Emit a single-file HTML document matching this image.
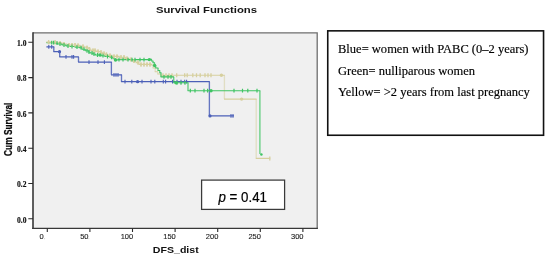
<!DOCTYPE html>
<html>
<head>
<meta charset="utf-8">
<title>Survival Functions</title>
<style>
html,body{margin:0;padding:0;background:#fff;}
body{width:550px;height:261px;position:relative;overflow:hidden;font-family:"Liberation Sans",sans-serif;}
svg{position:absolute;left:0;top:0;}
.legend{position:absolute;left:328.2px;top:31.9px;width:213px;height:101px;}
.legend div{position:absolute;left:10.2px;white-space:nowrap;font-family:"Liberation Serif",serif;font-size:12.2px;line-height:14px;color:#000;-webkit-text-stroke:0.15px #000;transform:scaleX(1.027);transform-origin:0 0;}
.pbox{position:absolute;left:202px;top:181px;width:82px;height:28px;}
.pbox span{position:absolute;left:16.5px;top:8.6px;font-size:13.3px;line-height:18px;color:#000;-webkit-text-stroke:0.2px #000;white-space:nowrap;transform:scaleY(1.17);transform-origin:0 100%;}
</style>
</head>
<body>
<svg width="550" height="261" viewBox="0 0 550 261">
  <rect x="33" y="32.8" width="284.2" height="195.6" fill="#f0f0f0"/>
  <!-- frame -->
  <path d="M33 32.8 H317.2 V228.4" fill="none" stroke="#6e6e6e" stroke-width="1.3"/>
  <path d="M33 32.2 V229" fill="none" stroke="#383838" stroke-width="1.6"/>
  <path d="M32.2 228.4 H317.9" fill="none" stroke="#383838" stroke-width="1.3"/>
  <g stroke="#2a2a2a" stroke-width="1.1">
    <path d="M28.3 42.3H33M28.3 77.6H33M28.3 112.9H33M28.3 148.2H33M28.3 183.5H33M28.3 218.8H33"/>
    <path d="M47.3 228.4V232.1M89.9 228.4V232.1M132.5 228.4V232.1M175.1 228.4V232.1M217.7 228.4V232.1M260.3 228.4V232.1M302.9 228.4V232.1"/>
  </g>
  <g font-family="Liberation Serif, serif" font-weight="bold" font-size="7.5px" fill="#111" stroke="#111" stroke-width="0.15" text-anchor="end">
    <text x="26.4" y="46.1">1.0</text>
    <text x="26.4" y="81.4">0.8</text>
    <text x="26.4" y="116.7">0.6</text>
    <text x="26.4" y="152.0">0.4</text>
    <text x="26.4" y="187.3">0.2</text>
    <text x="26.4" y="222.6">0.0</text>
  </g>
  <g font-family="Liberation Sans, sans-serif" font-size="7.5px" fill="#222" stroke="#222" stroke-width="0.12" text-anchor="middle">
    <text x="41.7" y="238.8">0</text>
    <text x="84.3" y="238.8">50</text>
    <text x="126.9" y="238.8">100</text>
    <text x="169.5" y="238.8">150</text>
    <text x="212.1" y="238.8">200</text>
    <text x="254.7" y="238.8">250</text>
    <text x="297.3" y="238.8">300</text>
  </g>
  <g fill="#9a9a9a"><circle cx="44.7" cy="238.8" r="0.45"/><circle cx="88.9" cy="238.8" r="0.45"/></g>
  <rect x="327.75" y="30.85" width="215.8" height="104.4" fill="#fff" stroke="#111" stroke-width="1.6"/>
  <rect x="201.6" y="180.1" width="83" height="29.3" fill="#fff" stroke="#3a3a3a" stroke-width="1.25"/>
  <text x="206.5" y="12.8" font-family="Liberation Sans, sans-serif" font-weight="bold" font-size="9.5px" fill="#151515" text-anchor="middle" transform="translate(206.5 0) scale(1.192 1) translate(-206.5 0)">Survival Functions</text>
  <text x="175.8" y="253" font-family="Liberation Sans, sans-serif" font-weight="bold" font-size="9.5px" fill="#111" text-anchor="middle" transform="translate(175.8 0) scale(1.115 1) translate(-175.8 0)">DFS_dist</text>
  <text font-family="Liberation Sans, sans-serif" font-weight="bold" font-size="8.35px" fill="#0a0a0a" stroke="#0a0a0a" stroke-width="0.2" text-anchor="middle" transform="translate(11.6 129.3) rotate(-90) scale(1 1.3)">Cum Survival</text>

  <!-- yellow -->
<g fill="none" stroke="#d6cf9e"><path stroke-width="1.1" d="M46.1 42.2H58.4M57.6 42.9H62.4M61.6 44.0H67.4M66.6 45.0H76.4M75.6 45.4H80.4M79.6 46.4H84.4M83.6 47.0H86.4M85.6 47.7H88.9M88.1 49.0H91.1M90.3 50.4H96.4M95.6 51.5H100.4M99.6 52.3H102.6M101.8 53.4H105.4M104.6 54.4H108.1M107.3 55.4H112.4M111.6 56.4H119.6M118.8 57.3H125.8M125.0 58.4H129.4M128.6 59.5H132.8M132.0 61.0H136.4M135.6 62.6H139.4M138.6 64.4H151.9M151.1 65.0H153.4M152.6 68.0H155.6M154.8 71.8H158.1M157.3 74.0H161.0M160.2 75.3H224.8M224.0 99.1H256.6M255.8 158.4H270.2"/><path stroke-width="1.3" stroke-opacity="0.55" d="M58.0 42.2V42.9M62.0 42.9V44.0M67.0 44.0V45.0M76.0 45.0V45.4M80.0 45.4V46.4M84.0 46.4V47.0M86.0 47.0V47.7M88.5 47.7V49.0M90.7 49.0V50.4M96.0 50.4V51.5M100.0 51.5V52.3M102.2 52.3V53.4M105.0 53.4V54.4M107.7 54.4V55.4M112.0 55.4V56.4M119.2 56.4V57.3M125.4 57.3V58.4M129.0 58.4V59.5M132.4 59.5V61.0M136.0 61.0V62.6M139.0 62.6V64.4M151.5 64.4V65.0M153.0 65.0V68.0M155.2 68.0V71.8M157.7 71.8V74.0M160.6 74.0V75.3M224.4 75.3V99.1M256.2 99.1V158.4"/></g>
<g stroke="#d6cf9e" stroke-width="1.3" fill="none"><path d="M48.6 40.2v4.0M55.1 40.2v4.0M60.0 40.9v4.0M64.0 42.0v4.0M69.0 43.0v4.0M72.0 43.0v4.0M75.0 43.0v4.0M78.0 43.4v4.0M83.0 44.4v4.0M87.0 45.7v4.0M89.5 47.0v4.0M93.0 48.4v4.0M95.0 48.4v4.0M98.0 49.5v4.0M101.0 50.3v4.0M104.0 51.4v4.0M106.5 52.4v4.0M110.0 53.4v4.0M114.0 54.4v4.0M117.0 54.4v4.0M121.0 55.3v4.0M124.0 55.3v4.0M127.0 56.4v4.0M131.0 57.5v4.0M134.0 59.0v4.0M138.0 60.6v4.0M141.0 62.4v4.0M144.0 62.4v4.0M147.0 62.4v4.0M150.0 62.4v4.0M163.0 73.3v4.0M166.0 73.3v4.0M169.0 73.3v4.0M172.0 73.3v4.0M176.7 73.3v4.0M184.7 73.3v4.0M187.2 73.3v4.0M192.8 73.3v4.0M196.5 73.3v4.0M200.2 73.3v4.0M205.0 73.3v4.0M208.0 73.3v4.0M211.0 73.3v4.0M269.8 156.4v4.0"/></g>
<g fill="#d6cf9e"><circle cx="221.4" cy="75.3" r="1.7"/><circle cx="241.6" cy="99.1" r="1.7"/></g>
<!-- blue -->
<g fill="none" stroke="#4c60b8"><path stroke-width="1.2" d="M46.4 46.8H54.2M53.4 51.7H60.1M59.3 56.9H78.9M78.1 62.1H111.8M111.0 74.8H121.9M121.1 81.7H209.8M209.0 115.9H234.0"/><path stroke-width="1.35" stroke-opacity="0.85" d="M53.8 46.8V51.7M59.7 51.7V56.9M78.5 56.9V62.1M111.4 62.1V74.8M121.5 74.8V81.7M209.4 81.7V115.9"/></g>
<g stroke="#4c60b8" stroke-width="1.1" fill="none"><path d="M48.8 44.9v3.8M51.7 44.9v3.8M66.0 55.0v3.8M72.0 55.0v3.8M73.6 55.0v3.8M89.0 60.2v3.8M98.0 60.2v3.8M104.4 60.2v3.8M114.0 72.9v3.8M116.0 72.9v3.8M118.0 72.9v3.8M125.0 79.8v3.8M131.8 79.8v3.8M142.0 79.8v3.8M151.0 79.8v3.8M154.8 79.8v3.8M163.3 79.8v3.8M165.6 79.8v3.8M172.5 79.8v3.8M177.0 79.8v3.8M181.0 79.8v3.8M184.7 79.8v3.8M186.6 79.8v3.8M231.0 114.0v3.8M233.0 114.0v3.8"/></g>
<g fill="#4c60b8"><circle cx="59.5" cy="51.7" r="1.6"/><circle cx="137.6" cy="81.7" r="1.6"/><circle cx="210.0" cy="115.9" r="1.6"/></g>
<!-- green -->
<g fill="none" stroke="#3fc463"><path stroke-width="1.1" d="M46.4 42.6H55.4M54.6 43.2H57.9M57.1 44.0H62.4M61.6 45.0H66.4M65.6 46.0H70.4M69.6 46.5H75.4M74.6 47.1H79.6M78.8 47.7H82.4M81.6 49.2H85.7M84.9 50.8H88.8M88.0 52.0H90.4M89.6 53.0H93.4M92.6 54.0H95.7M94.9 55.0H101.1M100.3 55.7H105.4M104.6 56.5H110.4M109.6 57.3H113.4M112.6 58.8H115.7M114.9 60.0H118.4M117.6 59.6H150.4M149.6 59.4H151.9M151.1 61.0H153.4M152.6 62.7H154.9M154.1 65.5H156.1M155.3 68.0H158.4M157.6 70.5H160.1M159.3 72.7H161.4M160.6 76.9H174.1M173.3 82.8H188.4M187.6 90.7H260.3"/><path stroke-width="1.4" stroke-opacity="0.75" d="M55.0 42.6V43.2M57.5 43.2V44.0M62.0 44.0V45.0M66.0 45.0V46.0M70.0 46.0V46.5M75.0 46.5V47.1M79.2 47.1V47.7M82.0 47.7V49.2M85.3 49.2V50.8M88.4 50.8V52.0M90.0 52.0V53.0M93.0 53.0V54.0M95.3 54.0V55.0M100.7 55.0V55.7M105.0 55.7V56.5M110.0 56.5V57.3M113.0 57.3V58.8M115.3 58.8V60.0M118.0 60.0V59.6M150.0 59.6V59.4M151.5 59.4V61.0M153.0 61.0V62.7M154.5 62.7V65.5M155.7 65.5V68.0M158.0 68.0V70.5M159.7 70.5V72.7M161.0 72.7V76.9M173.7 76.9V82.8M188.0 82.8V90.7M259.9 90.7V154.0"/></g>
<g fill="none" stroke="#d6cf9e" stroke-width="1.2"><path d="M46.5 42.2H57.8"/><path d="M48.6 40.2v4.0M55.1 40.2v4.0M60.0 40.9v4.0M64.0 42.0v4.0M69.0 43.0v4.0M72.0 43.0v4.0M75.0 43.0v4.0M78.0 43.4v4.0M83.0 44.4v4.0M87.0 45.7v4.0M89.5 47.0v4.0M93.0 48.4v4.0M95.0 48.4v4.0M98.0 49.5v4.0M101.0 50.3v4.0M104.0 51.4v4.0M106.5 52.4v4.0M110.0 53.4v4.0M114.0 54.4v4.0M117.0 54.4v4.0M121.0 55.3v4.0M124.0 55.3v4.0M127.0 56.4v4.0M131.0 57.5v4.0M134.0 59.0v4.0M138.0 60.6v4.0M141.0 62.4v4.0M144.0 62.4v4.0M147.0 62.4v4.0M150.0 62.4v4.0"/></g>
<g stroke="#3fc463" stroke-width="1.2" fill="none"><path d="M51.7 40.7v3.8M53.6 40.7v3.8M57.0 41.3v3.8M60.0 42.1v3.8M64.0 43.1v3.8M68.0 44.1v3.8M72.0 44.6v3.8M77.0 45.2v3.8M81.0 45.8v3.8M84.0 47.3v3.8M87.0 48.9v3.8M89.0 50.1v3.8M92.0 51.1v3.8M94.0 52.1v3.8M97.5 53.1v3.8M103.0 53.8v3.8M107.5 54.6v3.8M111.5 55.4v3.8M119.0 57.7v3.8M123.0 57.7v3.8M128.0 57.7v3.8M132.0 57.7v3.8M135.0 57.7v3.8M140.0 57.7v3.8M144.0 57.7v3.8M164.0 75.0v3.8M168.0 75.0v3.8M171.0 75.0v3.8M177.0 80.9v3.8M181.0 80.9v3.8M185.0 80.9v3.8M190.3 88.8v3.8M195.0 88.8v3.8M204.0 88.8v3.8M207.6 88.8v3.8M234.0 88.8v3.8M242.5 88.8v3.8M247.8 88.8v3.8M257.0 88.8v3.8"/></g>
<g fill="#3fc463"><circle cx="100.0" cy="55.0" r="1.7"/><circle cx="115.5" cy="60.0" r="1.7"/><circle cx="149.3" cy="59.6" r="1.7"/><circle cx="154.6" cy="65.5" r="1.7"/><circle cx="176.0" cy="82.8" r="1.7"/><circle cx="211.0" cy="90.7" r="1.7"/><circle cx="261.4" cy="154.6" r="1.25"/></g>
</svg>

<div class="legend">
  <div style="top:10.2px">Blue= women with PABC (0–2 years)</div>
  <div style="top:32.2px">Green= nulliparous women</div>
  <div style="top:53.1px">Yellow= &gt;2 years from last pregnancy</div>
</div>
<div class="pbox"><span><i>p</i> = 0.41</span></div>
</body>
</html>
